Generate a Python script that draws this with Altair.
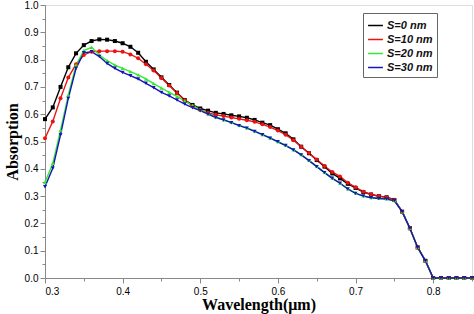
import altair as alt
import pandas as pd

wavelength = [round(0.30 + 0.01 * i, 2) for i in range(56)]

s0 = [0.582, 0.625, 0.700, 0.772, 0.823, 0.853, 0.868, 0.874, 0.873, 0.868,
      0.860, 0.847, 0.825, 0.792, 0.764, 0.735, 0.707, 0.679, 0.652, 0.634,
      0.621, 0.613, 0.605, 0.601, 0.596, 0.592, 0.587, 0.579, 0.569, 0.560,
      0.545, 0.530, 0.508, 0.481, 0.457, 0.432, 0.408, 0.383, 0.365, 0.345,
      0.330, 0.315, 0.306, 0.300, 0.296, 0.286, 0.243, 0.182, 0.112, 0.063,
      0.0, 0.0, 0.0, 0.0, 0.0, 0.0]
s10 = [0.512, 0.573, 0.658, 0.734, 0.783, 0.817, 0.829, 0.831, 0.831, 0.831,
       0.829, 0.819, 0.805, 0.783, 0.760, 0.733, 0.705, 0.678, 0.651, 0.630,
       0.615, 0.605, 0.598, 0.593, 0.588, 0.583, 0.578, 0.572, 0.563, 0.553,
       0.540, 0.525, 0.505, 0.481, 0.458, 0.434, 0.410, 0.388, 0.372, 0.349,
       0.332, 0.316, 0.306, 0.300, 0.296, 0.286, 0.243, 0.182, 0.112, 0.063,
       0.0, 0.0, 0.0, 0.0, 0.0, 0.0]
s20 = [0.350, 0.420, 0.542, 0.670, 0.780, 0.833, 0.845, 0.817, 0.796, 0.780,
       0.768, 0.756, 0.744, 0.729, 0.712, 0.696, 0.680, 0.665, 0.648, 0.632,
       0.616, 0.602, 0.590, 0.580, 0.570, 0.560, 0.550, 0.538, 0.526, 0.513,
       0.500, 0.486, 0.470, 0.452, 0.431, 0.409, 0.387, 0.366, 0.348, 0.327,
       0.311, 0.301, 0.295, 0.292, 0.290, 0.284, 0.243, 0.182, 0.112, 0.063,
       0.0, 0.0, 0.0, 0.0, 0.0, 0.0]
s30 = [0.334, 0.402, 0.524, 0.658, 0.768, 0.825, 0.829, 0.811, 0.786, 0.768,
       0.753, 0.741, 0.729, 0.713, 0.697, 0.680, 0.667, 0.652, 0.637, 0.624,
       0.613, 0.600, 0.588, 0.579, 0.569, 0.558, 0.549, 0.537, 0.525, 0.512,
       0.499, 0.485, 0.469, 0.451, 0.430, 0.408, 0.386, 0.365, 0.347, 0.326,
       0.310, 0.300, 0.294, 0.291, 0.289, 0.283, 0.243, 0.182, 0.112, 0.063,
       0.0, 0.0, 0.0, 0.0, 0.0, 0.0]

series_names = ["S=0 nm", "S=10 nm", "S=20 nm", "S=30 nm"]
series_values = [s0, s10, s20, s30]
series_colors = ["#000000", "#ee1111", "#33e833", "#1515b8"]
series_shapes = ["square", "circle", "triangle-up", "triangle-down"]

rows = []
for name, vals in zip(series_names, series_values):
    for w, v in zip(wavelength, vals):
        rows.append({"wavelength": w, "absorption": v, "series": name})
df = pd.DataFrame(rows)

x_ticks = [round(0.30 + 0.05 * i, 2) for i in range(12)]
y_ticks = [round(0.05 * i, 2) for i in range(21)]

major_test = "abs(datum.value*10 - round(datum.value*10)) < 0.001"
label_expr = f"{major_test} ? format(datum.value, '.1f') : ''"
serif = "Liberation Serif, Times New Roman, DejaVu Serif, serif"

x_enc = alt.X(
    "wavelength:Q",
    scale=alt.Scale(domain=[0.3, 0.85], nice=False, zero=False),
    axis=alt.Axis(
        values=x_ticks, labelExpr=label_expr, title="Wavelength(μm)",
        grid=False, tickSize={"condition": {"test": major_test, "value": 5}, "value": 3},
        labelPadding=3, titlePadding=0,
        titleFont=serif, titleFontSize=16, titleFontWeight="bold",
    ),
)
y_enc = alt.Y(
    "absorption:Q",
    scale=alt.Scale(domain=[0, 1.0], nice=False),
    axis=alt.Axis(
        values=y_ticks, labelExpr=label_expr, title="Absorption",
        grid=False, tickSize={"condition": {"test": major_test, "value": 5}, "value": 3},
        labelPadding=2, titlePadding=4,
        titleFont=serif, titleFontSize=16, titleFontWeight="bold",
    ),
)
stroke_enc = alt.Stroke(
    "series:N",
    scale=alt.Scale(domain=series_names, range=series_colors),
    legend=alt.Legend(
        title=None, orient="none", legendX=318, legendY=8,
        symbolType="stroke", symbolSize=220, symbolStrokeWidth=1.5,
        labelFont="Liberation Sans", labelFontSize=11, labelFontWeight="bold",
        labelFontStyle="italic", labelColor="#111111",
        strokeColor="#666666", padding=4, rowPadding=0, labelOffset=3,
    ),
)

layers = [alt.Chart(df).mark_line(strokeWidth=1.4).encode(x=x_enc, y=y_enc, stroke=stroke_enc)]
for name, col, shp in zip(series_names, series_colors, series_shapes):
    layers.append(
        alt.Chart(df).transform_filter(alt.datum.series == name)
        .mark_point(filled=True, size=16, opacity=1, color=col, shape=shp)
        .encode(x=x_enc, y=y_enc)
    )

chart = alt.layer(*layers).properties(
    width=427, height=273,
    padding={"left": 45, "top": 5, "right": 2, "bottom": 36},
    autosize=alt.AutoSizeParams(type="none"),
).configure_view(
    stroke="#9a9a9a", strokeWidth=1.5,
).configure_axis(
    domainColor="#222222", domainWidth=1.2, tickColor="#222222", tickWidth=1.2,
    labelFont="Liberation Sans", labelFontSize=13, labelColor="#333333",
    titleColor="#111111",
).configure(background="white")

chart.save("out.html", embed_options={"renderer": "svg", "actions": False})
